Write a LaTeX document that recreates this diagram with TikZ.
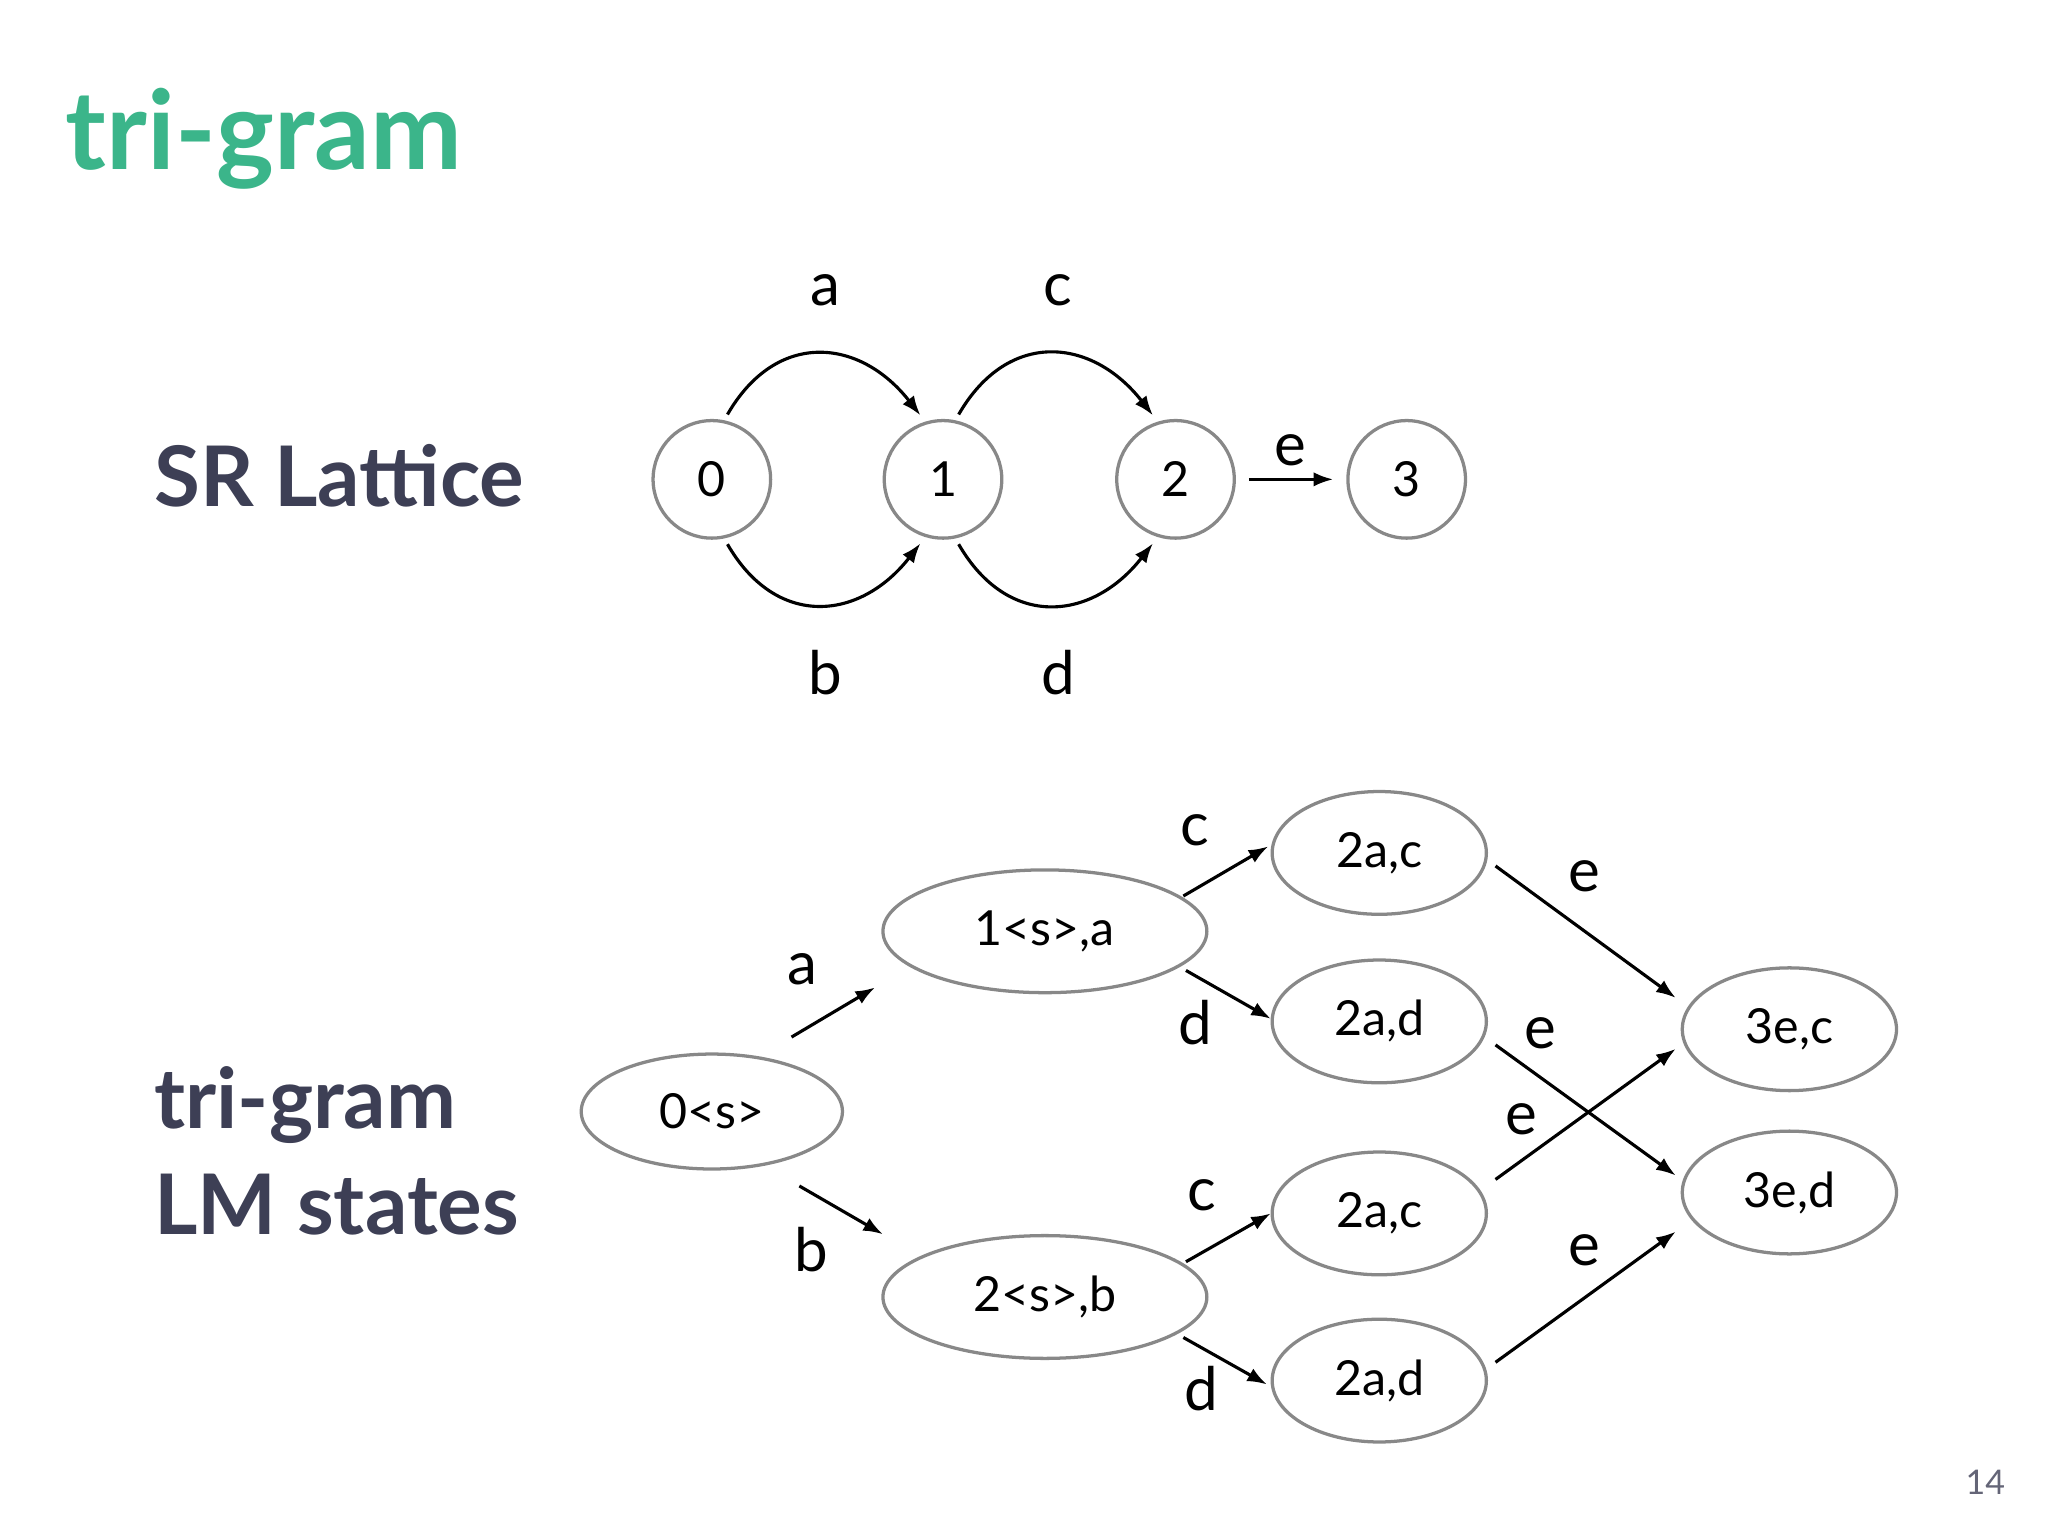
\documentclass[tikz,border=0pt]{standalone}
\usepackage{fontspec}
\setmainfont{Lato}
\usetikzlibrary{arrows.meta,shapes.geometric}
\definecolor{tgreen}{HTML}{3BB58A}
\definecolor{tdark}{HTML}{3D3F55}
\definecolor{cgray}{HTML}{888888}
\begin{document}
\begin{tikzpicture}[x=1pt,y=-1pt,
  st/.style={circle,draw=cgray,line width=2.5pt,minimum size=90pt,inner sep=0pt,font=\fontsize{37}{37}\selectfont},
  el/.style={ellipse,draw=cgray,line width=2.5pt,inner sep=0pt,font=\fontsize{37}{37}\selectfont},
  lab/.style={font=\fontsize{46}{46}\selectfont,inner sep=0pt},
  arr/.style={line width=2.4pt,-{Latex[length=15pt,width=11pt]}},
  head/.style={font=\fontsize{64}{64}\selectfont\bfseries,text=tdark,anchor=base west,inner sep=0pt}]
\useasboundingbox (0,0) rectangle (1568,1176);
\node[font=\fontsize{84}{84}\selectfont\bfseries,text=tgreen,anchor=base west,inner sep=0pt] (title) at (50,130) {tri-gram};
\node[head] (srl) at (118,388) {SR Lattice};
\node[head] (tg) at (118,864) {tri-gram};
\node[head] (lm) at (118,945) {LM states};
\node[font=\fontsize{26}{26}\selectfont,text=tdark!80] (pg) at (1520,1135) {14};
% lattice
\node[st] (n0) at (545,367) {0};
\node[st] (n1) at (722,367) {1};
\node[st] (n2) at (900,367) {2};
\node[st] (n3) at (1077,367) {3};
\draw[arr] ([shift={(0,-5)}]n0.75) to[out=60,in=128,looseness=1.3] ([shift={(-3,-5)}]n1.108);
\draw[arr] ([shift={(0,5)}]n0.-75) to[out=-60,in=-128,looseness=1.3] ([shift={(-3,5)}]n1.-108);
\draw[arr] ([shift={(0,-5)}]n1.75) to[out=60,in=128,looseness=1.3] ([shift={(-3,-5)}]n2.108);
\draw[arr] ([shift={(0,5)}]n1.-75) to[out=-60,in=-128,looseness=1.3] ([shift={(-3,5)}]n2.-108);
\draw[arr,shorten <=10pt,shorten >=10pt] (n2) -- (n3);
\node[lab] (la) at (632,222) {a};
\node[lab] (lb) at (632,515) {b};
\node[lab] (lc) at (810,222) {c};
\node[lab] (ld) at (810,515) {d};
\node[lab] (le) at (988,345) {e};
% LM states
\node[el,minimum width=200pt,minimum height=88pt] (s0) at (545,851) {0<s>};
\node[el,minimum width=248pt,minimum height=94pt] (s1) at (800,713) {1<s>,a};
\node[el,minimum width=248pt,minimum height=94pt] (s2) at (800,993) {2<s>,b};
\node[el,minimum width=164pt,minimum height=94pt] (ac1) at (1056,653) {2a,c};
\node[el,minimum width=164pt,minimum height=94pt] (ad1) at (1056,782) {2a,d};
\node[el,minimum width=164pt,minimum height=94pt] (ac2) at (1056,929) {2a,c};
\node[el,minimum width=164pt,minimum height=94pt] (ad2) at (1056,1057) {2a,d};
\node[el,minimum width=164pt,minimum height=94pt] (ec) at (1370,788) {3e,c};
\node[el,minimum width=164pt,minimum height=94pt] (ed) at (1370,913) {3e,d};
\coordinate (a0) at (606,794); \coordinate (a1) at (670,756);
\coordinate (b0) at (612,908); \coordinate (b1) at (676,945);
\coordinate (c0) at (906,686); \coordinate (c1) at (971,648);
\coordinate (d0) at (908,743); \coordinate (d1) at (973,780);
\coordinate (c2) at (908,966); \coordinate (c3) at (973,929);
\coordinate (d2) at (906,1024); \coordinate (d3) at (970,1060);
\coordinate (e0) at (1145,663); \coordinate (e1) at (1283,764);
\coordinate (e2) at (1145,800); \coordinate (e3) at (1283,900);
\coordinate (e4) at (1145,903); \coordinate (e5) at (1283,803);
\coordinate (e6) at (1145,1043); \coordinate (e7) at (1283,943);
\foreach \p/\q in {a0/a1,b0/b1,c0/c1,d0/d1,c2/c3,d2/d3,e0/e1,e2/e3,e4/e5,e6/e7}
  \draw[arr] (\p) -- (\q);
\node[lab] (ma) at (614,742) {a};
\node[lab] (mb) at (621,957) {b};
\node[lab] (mc) at (915,636) {c};
\node[lab] (md) at (915,783) {d};
\node[lab] (mc2) at (920,915) {c};
\node[lab] (md2) at (920,1063) {d};
\node[lab] (me1) at (1213,671) {e};
\node[lab] (me2) at (1179,791) {e};
\node[lab] (me3) at (1165,857) {e};
\node[lab] (me4) at (1213,957) {e};
\end{tikzpicture}
\end{document}
